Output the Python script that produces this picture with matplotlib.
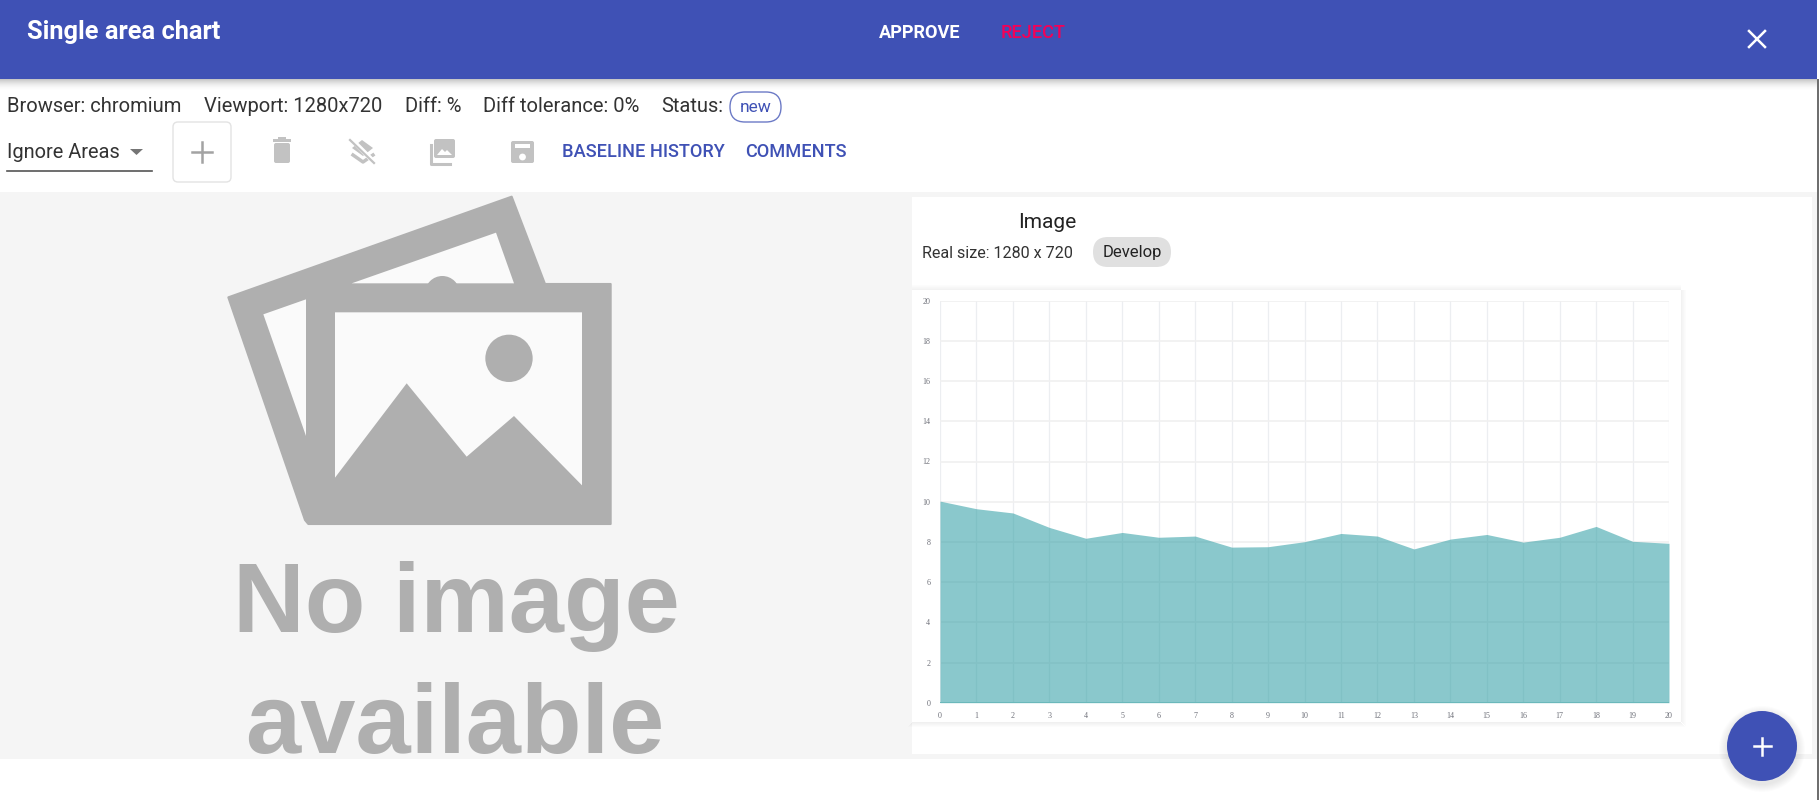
import matplotlib
matplotlib.use('Agg')
import matplotlib.pyplot as plt
from matplotlib.patches import Rectangle, Polygon, Circle, FancyBboxPatch

W, H = 1819, 800

# values
x_vals = list(range(21))
y_vals = [10.03, 9.65, 9.44, 8.72, 8.18, 8.47, 8.23, 8.29, 7.74, 7.76, 8.01,
          8.42, 8.29, 7.65, 8.14, 8.37, 7.99, 8.23, 8.77, 8.03, 7.93]
y_ticks = list(range(0, 21, 2))

info_labels = ['Browser: chromium', 'Viewport: 1280x720', 'Diff: %',
               'Diff tolerance: 0%', 'Status:']
info_pos = [7, 204, 405, 483, 661]

INDIGO = '#3f51b5'
ICON = '#c2c2c2'
TEXT = '#333333'
UI_FONT = ['Roboto', 'DejaVu Sans']

fig = plt.figure(figsize=(W / 100, H / 100), dpi=100, facecolor='white')

# full page axes in pixel coordinates, y pointing down
ui = fig.add_axes([0, 0, 1, 1])
ui.set_xlim(0, W)
ui.set_ylim(H, 0)
ui.axis('off')


def rect(x0, y0, x1, y1, color, z=1, alpha=None):
    ui.add_patch(Rectangle((x0, y0), x1 - x0, y1 - y0, fc=color, ec='none', zorder=z, alpha=alpha))


def pill(x0, y0, x1, y1, r, fc, ec='none', lw=1, z=3):
    ui.add_patch(FancyBboxPatch((x0 + r, y0 + r), x1 - x0 - 2 * r, y1 - y0 - 2 * r,
                                boxstyle=f'round,pad={r},rounding_size={r}',
                                fc=fc, ec=ec, lw=lw, zorder=z))


def label(x, y, s, size, color=TEXT, weight='normal', ha='left', va='center', fam=UI_FONT, z=5):
    ui.text(x, y, s, fontsize=size, color=color, fontweight=weight, ha=ha, va=va, family=fam, zorder=z)


def shadow(x0, x1, y, n, strength=0.05, z=2):
    # soft drop shadow, fades out going down
    for i in range(n):
        rect(x0, y + i, x1, y + i + 1, 'black', z=z, alpha=strength * (1 - i / n) ** 2)


# page backgrounds
rect(0, 192, 1817, 759, '#f5f5f5', z=0)
rect(912, 197, 1812, 754, 'white', z=0.5)
rect(1817, 79, W, H, '#6f6f6f', z=0.5)
rect(1817, 0, W, 79, '#ffffff', z=0.5)

# top bar
rect(0, 0, 1817, 79, INDIGO, z=3)
shadow(0, 1817, 79, 12, 0.22)
label(27, 32, 'Single area chart', 18.3, 'white', 'bold')
label(920, 33, 'APPROVE', 13.1, 'white', 'bold', ha='center')
label(1033.5, 33, 'REJECT', 13.1, '#f50057', 'medium', ha='center')
ui.plot([1749, 1765], [31, 47], color='white', lw=1.8, zorder=5)
ui.plot([1749, 1765], [47, 31], color='white', lw=1.8, zorder=5)

# info row
for x, s in zip(info_pos, info_labels):
    label(x, 106, s, 14.5)
pill(730, 92, 781, 122, 15, 'white', '#6c7ac6', 1)
label(755.5, 107, 'new', 12.5, INDIGO, ha='center')

# toolbar
label(7, 152, 'Ignore Areas', 14.4)
ui.add_patch(Polygon([(130, 149), (143, 149), (136.5, 155)], fc='#757575', ec='none', zorder=5))
ui.plot([7, 152], [171, 171], color='#555555', lw=1.2, zorder=4)
pill(173, 122, 231, 182, 5, 'white', '#e3e3e3', 1)
ui.plot([192, 212], [152, 152], color='#a3a3a3', lw=1.8, zorder=5)
ui.plot([202, 202], [142, 162], color='#a3a3a3', lw=1.8, zorder=5)

# trash
pill(274, 143, 290, 163, 2, ICON, z=5)
rect(273, 139, 291, 141.5, ICON, z=5)
rect(278, 137, 286, 140, ICON, z=5)
# layers crossed out
ui.add_patch(Polygon([(352, 148), (362, 140), (373, 148), (363, 156)], fc=ICON, ec='none', zorder=5))
ui.plot([353, 363, 373], [155, 162, 155], color=ICON, lw=2.5, zorder=5)
ui.plot([351, 374], [139, 162], color='white', lw=3.5, zorder=6)
ui.plot([350, 374], [140, 163], color=ICON, lw=1.6, zorder=7)
# photo library
pill(434, 139, 455, 158, 2, ICON, z=5)
ui.add_patch(Polygon([(437, 155), (442, 149), (445, 152), (447, 150), (452, 155)], fc='white', ec='none', zorder=6))
ui.plot([431, 431, 450], [145, 164, 164], color=ICON, lw=2.2, zorder=5)
# save
pill(511, 141, 534, 163, 2, ICON, z=5)
rect(515, 144, 530, 148, 'white', z=6)
ui.add_patch(Circle((522.5, 157), 3.4, fc='white', ec='none', zorder=6))

label(562, 152, 'BASELINE HISTORY', 13.1, INDIGO, 'medium')
label(745, 152, 'COMMENTS', 13.1, INDIGO, 'medium')

# "no image" placeholder, zoom crop coordinates / 3
PX, PY = 200, 180


def px(pts):
    return [(PX + a / 3, PY + b / 3) for a, b in pts]


PH = '#afafaf'
ui.add_patch(Polygon(px([(85, 352), (935, 50), (1035, 312), (1232, 312), (1232, 1032), (325, 1032), (315, 1020)]),
                     fc=PH, ec=PH, lw=1.5, joinstyle='round', zorder=1))
ui.add_patch(Polygon(px([(190, 403), (318, 358), (318, 768)]), fc='#fafafa', ec='none', zorder=2))
ui.add_patch(Polygon(px([(455, 310), (888, 158), (942, 310)]), fc='#fafafa', ec='none', zorder=2))
ui.add_patch(Circle((PX + 727 / 3, PY + 340 / 3), 52 / 3, fc=PH, ec='none', zorder=2.5))
ui.add_patch(Polygon(px([(405, 397), (1146, 397), (1146, 916), (942, 708), (800, 830), (620, 610), (405, 893)]),
                     fc='#fafafa', ec='none', zorder=2))
ui.add_patch(Circle((PX + 927 / 3, PY + 535 / 3), 71 / 3, fc=PH, ec='none', zorder=3))
ph_font = ['Liberation Sans', 'DejaVu Sans']
label(233, 632.5, 'No image', 71.5, PH, 'bold', va='baseline', fam=ph_font, z=2)
label(245, 752.5, 'available', 71.5, PH, 'bold', va='baseline', fam=ph_font, z=2)
rect(0, 759, 912, H, 'white', z=2.5)

# right panel header
label(1018, 223, 'Image', 15, '#222222')
label(922, 253, 'Real size: 1280 x 720', 11.6, '#333333')
pill(1093, 237, 1171, 267, 15, '#e0e0e0')
label(1132, 253, 'Develop', 12, '#222222', ha='center')

# chart card
rect(912, 290, 1681, 722, 'white', z=2)
for i in range(5):
    rect(912 - i, 722 + i, 1681 + i, 723 + i, 'black', z=1.5, alpha=0.06 * (1 - i / 5))
    rect(1681 + i, 290, 1682 + i, 722 + i, 'black', z=1.5, alpha=0.05 * (1 - i / 5))
    rect(912, 289 - i, 1681, 290 - i, 'black', z=1.5, alpha=0.05 * (1 - i / 5))

# floating add button
for i in range(8):
    ui.add_patch(Circle((1762, 749), 35 + 8 - i, fc='black', ec='none', alpha=0.012, zorder=7))
ui.add_patch(Circle((1762, 746), 35, fc=INDIGO, ec='none', zorder=8))
ui.plot([1753.5, 1770.5], [746, 746], color='white', lw=1.8, zorder=9)
ui.plot([1762, 1762], [737.5, 754.5], color='white', lw=1.8, zorder=9)

# the area chart itself
left, right, top, bottom = 940, 1669, 300.7, 702.7
ax = fig.add_axes([left / W, 1 - bottom / H, (right - left) / W, (bottom - top) / H], zorder=5)
ax.patch.set_alpha(0)
ax.fill_between(x_vals, y_vals, 0, color='#2a9ca2', alpha=0.55, lw=0, zorder=3)
ax.axhline(0, color='#6bb8bb', lw=1.4, zorder=4)
ax.set_xlim(0, 20)
ax.set_ylim(0, 20)
ax.set_xticks(x_vals)
ax.set_yticks(y_ticks)
ax.grid(True, axis='x', color='#eceef1', lw=0.9, zorder=1)
ax.grid(True, axis='y', color='#f0f0f0', lw=1.2, zorder=1)
ax.tick_params(length=0, pad=7, labelsize=5.8, labelcolor='#6e7079')
for t in ax.get_xticklabels() + ax.get_yticklabels():
    t.set_family(['Liberation Serif', 'DejaVu Serif'])
for s in ax.spines.values():
    s.set_visible(False)

fig.savefig('out.png', dpi=100)
